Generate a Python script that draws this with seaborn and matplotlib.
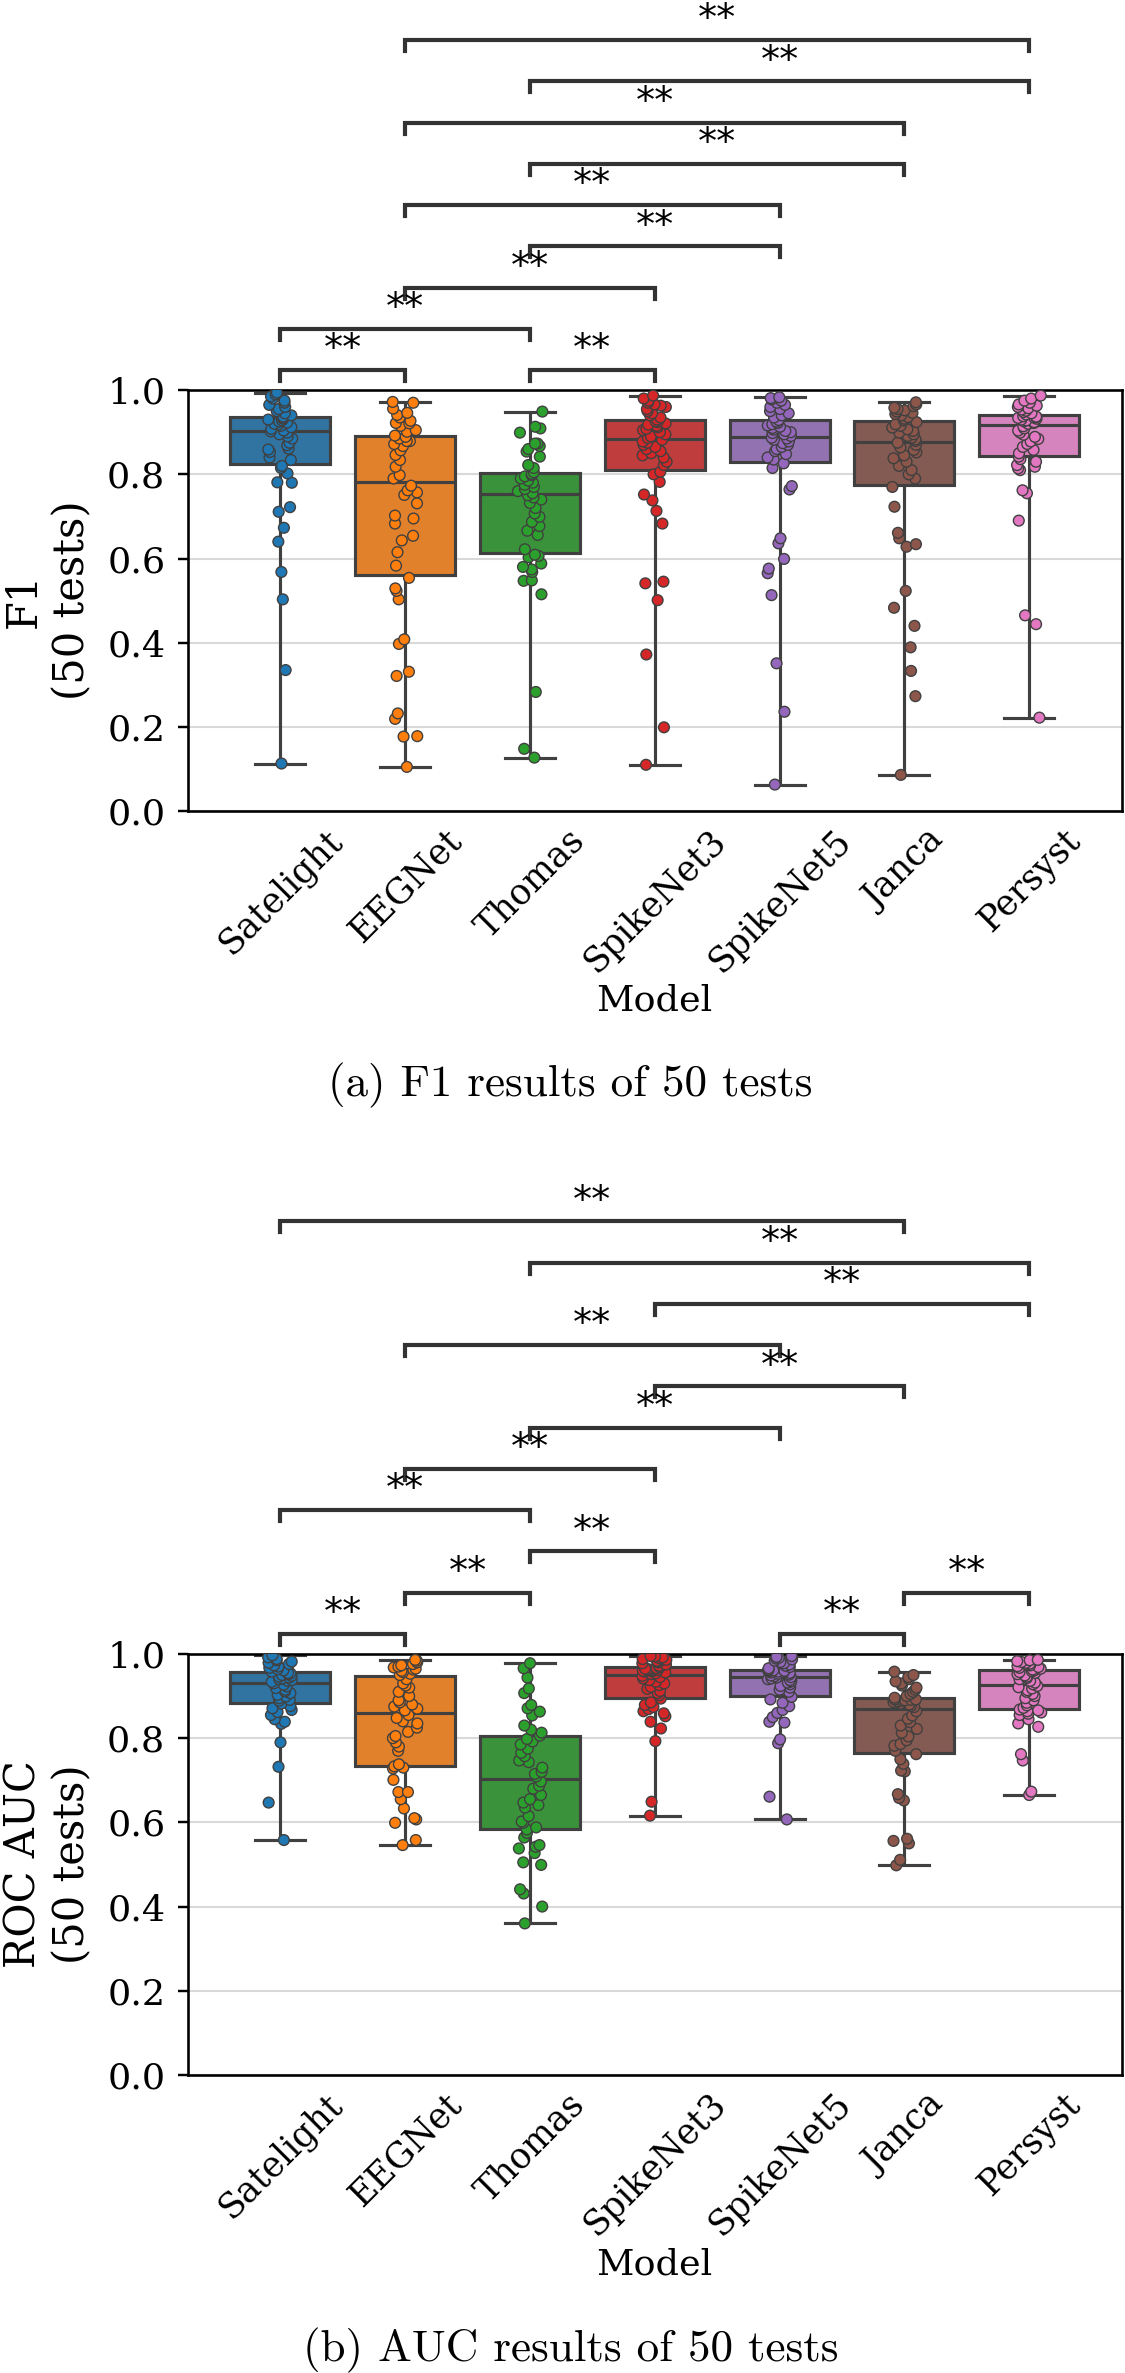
import numpy as np
import pandas as pd
import seaborn as sns
import matplotlib
matplotlib.use("Agg")
import matplotlib.pyplot as plt

models = ["Satelight", "EEGNet", "Thomas", "SpikeNet3", "SpikeNet5", "Janca", "Persyst"]

# F1 of the 50 tests
f1_satelight = [0.113, 0.335, 0.503, 0.568, 0.640, 0.673, 0.711, 0.722, 0.780, 0.781, 0.802, 0.815, 0.820,
                0.834, 0.840, 0.853, 0.859, 0.861, 0.869, 0.875, 0.885, 0.890, 0.895, 0.899, 0.902,
                0.904, 0.908, 0.912, 0.915, 0.918, 0.920, 0.923, 0.925, 0.928, 0.930, 0.932, 0.934,
                0.937, 0.940, 0.945, 0.950, 0.955, 0.960, 0.965, 0.970, 0.975, 0.980, 0.985, 0.990, 0.994]
f1_eegnet = [0.105, 0.177, 0.178, 0.219, 0.232, 0.321, 0.331, 0.397, 0.408, 0.503, 0.523, 0.529, 0.554,
             0.583, 0.615, 0.643, 0.654, 0.683, 0.695, 0.702, 0.731, 0.751, 0.757, 0.762, 0.773,
             0.790, 0.798, 0.818, 0.834, 0.846, 0.857, 0.867, 0.872, 0.879, 0.879, 0.885, 0.889,
             0.892, 0.901, 0.905, 0.915, 0.921, 0.922, 0.927, 0.935, 0.941, 0.946, 0.956, 0.970, 0.972]
f1_thomas = [0.127, 0.148, 0.283, 0.515, 0.547, 0.548, 0.568, 0.574, 0.580, 0.588, 0.603, 0.606, 0.609,
             0.622, 0.656, 0.666, 0.677, 0.687, 0.699, 0.707, 0.720, 0.732, 0.740, 0.745, 0.750,
             0.755, 0.760, 0.765, 0.770, 0.775, 0.780, 0.785, 0.790, 0.795, 0.798, 0.800, 0.801,
             0.805, 0.815, 0.822, 0.842, 0.854, 0.860, 0.867, 0.873, 0.873, 0.899, 0.909, 0.913, 0.949]
f1_spikenet3 = [0.110, 0.199, 0.372, 0.501, 0.541, 0.545, 0.683, 0.713, 0.738, 0.752, 0.782, 0.800, 0.806,
                0.822, 0.830, 0.840, 0.845, 0.850, 0.855, 0.860, 0.865, 0.870, 0.875, 0.878, 0.882,
                0.886, 0.890, 0.895, 0.900, 0.905, 0.908, 0.912, 0.915, 0.918, 0.921, 0.924, 0.926,
                0.930, 0.935, 0.940, 0.945, 0.950, 0.955, 0.960, 0.963, 0.966, 0.970, 0.975, 0.980, 0.987]
f1_spikenet5 = [0.063, 0.236, 0.351, 0.513, 0.565, 0.576, 0.599, 0.636, 0.648, 0.764, 0.772, 0.815, 0.826,
                0.835, 0.840, 0.848, 0.855, 0.860, 0.865, 0.870, 0.874, 0.878, 0.882, 0.885, 0.887,
                0.891, 0.895, 0.898, 0.900, 0.903, 0.906, 0.910, 0.913, 0.916, 0.919, 0.922, 0.925,
                0.929, 0.935, 0.940, 0.945, 0.950, 0.955, 0.960, 0.965, 0.970, 0.975, 0.978, 0.981, 0.983]
f1_janca = [0.086, 0.273, 0.333, 0.389, 0.440, 0.483, 0.523, 0.628, 0.634, 0.648, 0.661, 0.723, 0.770,
            0.790, 0.800, 0.810, 0.820, 0.830, 0.838, 0.845, 0.852, 0.858, 0.864, 0.870, 0.875,
            0.879, 0.883, 0.887, 0.891, 0.895, 0.899, 0.903, 0.907, 0.911, 0.915, 0.919, 0.924,
            0.928, 0.932, 0.936, 0.940, 0.943, 0.946, 0.949, 0.952, 0.955, 0.958, 0.962, 0.966, 0.971]
f1_persyst = [0.222, 0.444, 0.465, 0.690, 0.755, 0.762, 0.810, 0.814, 0.818, 0.822, 0.830, 0.836, 0.842,
              0.850, 0.858, 0.865, 0.872, 0.878, 0.884, 0.889, 0.894, 0.899, 0.904, 0.909, 0.914,
              0.920, 0.922, 0.924, 0.926, 0.928, 0.930, 0.932, 0.934, 0.935, 0.936, 0.937, 0.938,
              0.942, 0.945, 0.948, 0.951, 0.954, 0.957, 0.960, 0.963, 0.966, 0.970, 0.975, 0.980, 0.987]

# ROC AUC of the 50 tests
auc_satelight = [0.558, 0.647, 0.732, 0.790, 0.834, 0.839, 0.845, 0.855, 0.862, 0.867, 0.871, 0.876, 0.882,
                 0.889, 0.891, 0.895, 0.899, 0.903, 0.907, 0.911, 0.915, 0.919, 0.923, 0.927, 0.930,
                 0.934, 0.936, 0.938, 0.940, 0.942, 0.944, 0.946, 0.948, 0.950, 0.952, 0.954, 0.955,
                 0.958, 0.961, 0.964, 0.967, 0.970, 0.973, 0.976, 0.979, 0.982, 0.985, 0.988, 0.992, 0.997]
auc_eegnet = [0.546, 0.558, 0.599, 0.607, 0.610, 0.633, 0.655, 0.672, 0.672, 0.701, 0.728, 0.730, 0.733,
              0.738, 0.770, 0.780, 0.790, 0.800, 0.805, 0.815, 0.825, 0.835, 0.840, 0.848, 0.855,
              0.866, 0.870, 0.875, 0.880, 0.885, 0.890, 0.900, 0.910, 0.920, 0.925, 0.930, 0.940,
              0.950, 0.953, 0.957, 0.960, 0.963, 0.965, 0.968, 0.970, 0.973, 0.976, 0.980, 0.984, 0.986]
auc_thomas = [0.360, 0.400, 0.431, 0.441, 0.499, 0.505, 0.527, 0.538, 0.542, 0.546, 0.564, 0.575, 0.583,
              0.588, 0.599, 0.602, 0.615, 0.635, 0.641, 0.647, 0.655, 0.665, 0.680, 0.687, 0.697,
              0.709, 0.715, 0.720, 0.730, 0.743, 0.747, 0.757, 0.765, 0.775, 0.785, 0.792, 0.798,
              0.806, 0.813, 0.820, 0.830, 0.854, 0.863, 0.871, 0.879, 0.907, 0.918, 0.944, 0.966, 0.978]
auc_spikenet3 = [0.616, 0.649, 0.793, 0.823, 0.839, 0.852, 0.859, 0.864, 0.869, 0.874, 0.879, 0.885, 0.894,
                 0.902, 0.907, 0.912, 0.917, 0.922, 0.926, 0.930, 0.934, 0.938, 0.942, 0.945, 0.948,
                 0.952, 0.954, 0.956, 0.958, 0.959, 0.960, 0.961, 0.962, 0.963, 0.964, 0.965, 0.966,
                 0.969, 0.972, 0.975, 0.978, 0.980, 0.982, 0.984, 0.986, 0.988, 0.990, 0.992, 0.994, 0.995]
auc_spikenet5 = [0.607, 0.661, 0.788, 0.797, 0.837, 0.839, 0.850, 0.860, 0.867, 0.876, 0.884, 0.892, 0.898,
                 0.910, 0.915, 0.920, 0.924, 0.928, 0.932, 0.935, 0.938, 0.940, 0.942, 0.944, 0.945,
                 0.947, 0.949, 0.951, 0.953, 0.955, 0.956, 0.957, 0.958, 0.959, 0.960, 0.961, 0.961,
                 0.963, 0.966, 0.969, 0.972, 0.975, 0.978, 0.981, 0.984, 0.987, 0.989, 0.991, 0.993, 0.995]
auc_janca = [0.498, 0.511, 0.550, 0.556, 0.561, 0.652, 0.658, 0.667, 0.721, 0.723, 0.739, 0.750, 0.762,
             0.770, 0.782, 0.786, 0.795, 0.804, 0.813, 0.822, 0.830, 0.838, 0.846, 0.854, 0.864,
             0.874, 0.877, 0.880, 0.882, 0.884, 0.886, 0.888, 0.889, 0.890, 0.891, 0.892, 0.892,
             0.896, 0.900, 0.905, 0.910, 0.915, 0.920, 0.925, 0.930, 0.935, 0.940, 0.945, 0.950, 0.958]
auc_persyst = [0.665, 0.673, 0.747, 0.762, 0.827, 0.835, 0.845, 0.855, 0.858, 0.861, 0.864, 0.866, 0.868,
               0.872, 0.878, 0.884, 0.890, 0.895, 0.900, 0.905, 0.910, 0.914, 0.918, 0.921, 0.924,
               0.928, 0.932, 0.936, 0.940, 0.943, 0.946, 0.949, 0.952, 0.955, 0.957, 0.959, 0.961,
               0.963, 0.965, 0.967, 0.969, 0.971, 0.973, 0.975, 0.977, 0.979, 0.981, 0.983, 0.985, 0.986]

# Significant pairs (model indices) and the stacking level of each bracket
f1_pairs = [(0, 1), (2, 3), (0, 2), (1, 3), (2, 4), (1, 4), (2, 5), (1, 5), (2, 6), (1, 6)]
f1_levels = [0, 0, 1, 2, 3, 4, 5, 6, 7, 8]
auc_pairs = [(0, 1), (4, 5), (1, 2), (5, 6), (2, 3), (0, 2), (1, 3), (2, 4), (3, 5), (1, 4), (3, 6), (2, 6), (0, 5)]
auc_levels = [0, 0, 1, 1, 2, 3, 4, 5, 6, 7, 8, 9, 10]


def to_long(columns):
    rows = []
    for name, vals in zip(models, columns):
        rows += [(name, v) for v in vals]
    return pd.DataFrame(rows, columns=["Model", "score"])


def add_brackets(ax, pairs, levels):
    for (a, b), lvl in zip(pairs, levels):
        y = 1.0475 + 0.098 * lvl
        ax.plot([a, a, b, b], [y - 0.026, y, y, y - 0.026], lw=1.2, c="#333333",
                clip_on=False, solid_joinstyle="miter")
        ax.text((a + b) / 2, y + 0.047, "**", ha="center", va="center", fontsize=11,
                family="DejaVu Sans", clip_on=False)


def draw_panel(ax, df, ylabel, pairs, levels):
    sns.boxplot(data=df, x="Model", y="score", hue="Model", order=models, hue_order=models,
                palette="tab10", saturation=0.75, width=0.8, whis=(0, 100), linewidth=0.9,
                linecolor=".25", legend=False, ax=ax)
    sns.stripplot(data=df, x="Model", y="score", hue="Model", order=models, hue_order=models,
                  palette="tab10", size=3.1, linewidth=0.4, edgecolor=".25", jitter=0.1,
                  legend=False, ax=ax)
    ax.set_ylim(0, 1)
    ax.set_yticks(np.arange(0, 1.01, 0.2))
    ax.yaxis.grid(True, color="#d9d9d9", lw=0.6)
    ax.set_axisbelow(True)
    ax.tick_params(axis="x", length=0, labelrotation=45, labelsize=10)
    ax.tick_params(axis="y", labelsize=10.5)
    ax.set_xlabel("Model", fontsize=10.5, labelpad=1.5)
    ax.set_ylabel(ylabel, fontsize=12)
    for sp in ax.spines.values():
        sp.set_color("black")
        sp.set_linewidth(0.75)
    add_brackets(ax, pairs, levels)


np.random.seed(0)
plt.rcParams["font.family"] = "DejaVu Serif"
plt.rcParams["ytick.major.width"] = 0.7
plt.rcParams["ytick.major.size"] = 3

fig = plt.figure(figsize=(4.5, 9.492), dpi=250)
ax1 = fig.add_axes([0.167, 0.6582, 0.830, 0.1774])
ax2 = fig.add_axes([0.167, 0.1256, 0.830, 0.1774])

df_f1 = to_long([f1_satelight, f1_eegnet, f1_thomas, f1_spikenet3, f1_spikenet5, f1_janca, f1_persyst])
df_auc = to_long([auc_satelight, auc_eegnet, auc_thomas, auc_spikenet3, auc_spikenet5, auc_janca, auc_persyst])

draw_panel(ax1, df_f1, "F1\n(50 tests)", f1_pairs, f1_levels)
draw_panel(ax2, df_auc, "ROC AUC\n(50 tests)", auc_pairs, auc_levels)

fig.text(0.507, 0.5428, "(a) F1 results of 50 tests", ha="center", va="center", fontsize=13, family="cmr10")
fig.text(0.507, 0.0097, "(b) AUC results of 50 tests", ha="center", va="center", fontsize=13, family="cmr10")

fig.savefig("out.png", dpi=250)
